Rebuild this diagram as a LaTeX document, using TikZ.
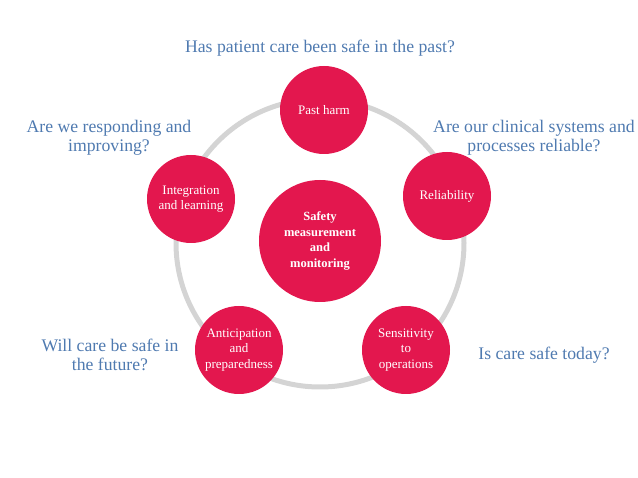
\documentclass[tikz,border=0pt]{standalone}
\usepackage{fontspec}
\setmainfont{Liberation Serif}
\usepackage{tikz}
\usetikzlibrary{positioning}
\definecolor{rougec}{HTML}{E3174E}
\definecolor{bleuq}{HTML}{4F7AB0}
\definecolor{grisanneau}{HTML}{D4D4D4}

\begin{document}
\begin{tikzpicture}[x=1pt, y=-1pt]
%styles : disques rouges et questions bleues
\tikzset{disque/.style={circle,fill=rougec,text=white,inner sep=0pt,minimum size=88pt,align=center,
  font=\fontsize{13}{15.2}\selectfont}}
\tikzset{question/.style={text=bleuq,align=center,anchor=base,inner sep=0pt,
  font=\fontsize{17.7}{19.7}\selectfont}} %base = ligne du bas
\useasboundingbox (0,0) rectangle (638,478);

\draw[grisanneau,line width=5pt] (320,243) circle (144); %anneau gris

\node[disque,minimum size=122pt,font=\bfseries\fontsize{12.5}{15.7}\selectfont] (centre) at (320,241)
  {Safety\\measurement\\and\\monitoring};
\node[disque] (passe) at (324,110) {Past harm};
\node[disque] (fiab) at (447,196) {Reliability};
\node[disque] (integ) at (191,199) {Integration\\and learning};
\node[disque] (antic) at (239,350) {Anticipation\\and\\preparedness};
\node[disque] (sensi) at (406,350) {Sensitivity\\to\\operations};

\node[question] (q1) at (320,53) {Has patient care been safe in the past?};
\node[question] (q2) at (109,152) {Are we responding and\\improving?};
\node[question] (q3) at (534,152) {Are our clinical systems and\\processes reliable?};
\node[question] (q4) at (110,371) {Will care be safe in\\the future?};
\node[question] (q5) at (544,360) {Is care safe today?};
\end{tikzpicture}
\end{document}
